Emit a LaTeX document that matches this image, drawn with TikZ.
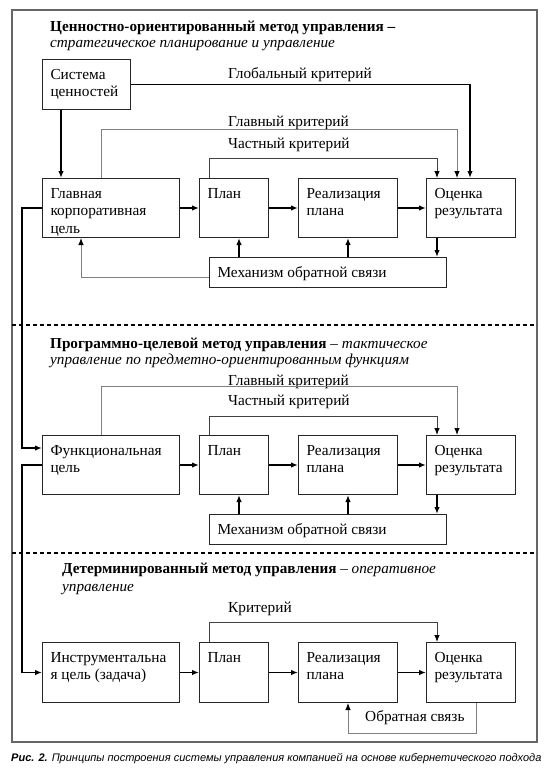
\documentclass[tikz,border=0pt]{standalone}
\usepackage{fontspec}
\setmainfont{Liberation Serif}
\newfontfamily\capfont{Liberation Sans}
\usetikzlibrary{arrows.meta}
\newcommand\bxt[3]{\parbox[c][#2pt][t]{\dimexpr #1pt-16pt\relax}{\vspace*{7.5pt}\raggedright\strut #3}}
\begin{document}
\begin{tikzpicture}[x=1pt,y=-1pt,
  box/.style={draw=black!85, line width=1pt, anchor=north west, inner ysep=0pt, inner xsep=8pt, font=\fontsize{15.3}{17.5}\selectfont},
  lbl/.style={anchor=base west, inner sep=0pt, font=\fontsize{15.3}{17.5}\selectfont},
  ttl/.style={anchor=base west, inner sep=0pt, font=\fontsize{15.2}{17}\selectfont},
  thk/.style={line width=1.6pt, -{Latex[length=7pt,width=5.5pt]}},
  thm/.style={line width=0.9pt, draw=black!75, -{Latex[length=7pt,width=5.5pt,color=black]}},
  thn/.style={line width=0.9pt, draw=black!50, -{Latex[length=7pt,width=5.5pt,color=black]}},
  frm/.style={line width=1.5pt, draw=black!60},
  sep/.style={line width=1.2pt, dash pattern=on 4pt off 3pt}
]
\useasboundingbox (0,0) rectangle (551,773);
\fill[white] (0,0) rectangle (551,773);
\draw[frm] (12,10) rectangle (537,742);
\draw[sep] (12,325) -- (537,325);
\draw[sep] (12,553) -- (537,553);

% titles
\node[ttl] (t1a) at (50,32) {\bfseries Ценностно-ориентированный метод управления –};
\node[ttl] (t1b) at (50,48) {\itshape стратегическое планирование и управление};
\node[ttl] (t2a) at (50,348) {{\bfseries Программно-целевой метод управления} \textit{– тактическое}};
\node[ttl] (t2b) at (50,364) {\itshape управление по предметно-ориентированным функциям};
\node[ttl] (t3a) at (62,573) {{\bfseries Детерминированный метод управления} \textit{– оперативное}};
\node[ttl] (t3b) at (62,591) {\itshape управление};

% top section
\node[box] (sys) at (42,59) {\bxt{88}{50}{Система\\ценностей}};
\node[box] (glav) at (42,178) {\bxt{137}{59}{Главная\\корпоративная\\цель}};
\node[box] (plan1) at (199,178) {\bxt{69}{59}{План}};
\node[box] (real1) at (298,178) {\bxt{99}{59}{Реализация\\плана}};
\node[box] (oc1) at (426,178) {\bxt{89}{59}{Оценка\\результата}};
\node[box] (mech1) at (209,257) {\bxt{237}{30}{Механизм обратной связи}};

\node[lbl] (lglob) at (228,79) {Глобальный критерий};
\node[lbl] (lgl1) at (228,127) {Главный критерий};
\node[lbl] (lch1) at (228,148) {Частный критерий};

\draw[thk] ([xshift=19pt]sys.south west) -- ([xshift=19pt]glav.north west);
\draw[thk] (sys.east) -| ([xshift=44pt]oc1.north west);
\draw[thn] ([xshift=59pt]glav.north west) -- ++(0,-49) -| ([xshift=31pt]oc1.north west);
\draw[thm] ([xshift=10pt]plan1.north west) -- ++(0,-20) -| ([xshift=11pt]oc1.north west);
\draw[thk] (glav.east) -- (plan1.west);
\draw[thk] (plan1.east) -- (real1.west);
\draw[thk] (real1.east) -- (oc1.west);
\draw[thk] ([xshift=30pt]mech1.north west) -- ([xshift=40pt]plan1.south west);
\draw[thk] ([xshift=139pt]mech1.north west) -- ([xshift=50pt]real1.south west);
\draw[thk] ([xshift=11pt]oc1.south west) -- ([xshift=228pt]mech1.north west);
\draw[thn] ([yshift=-5pt]mech1.west) -| ([xshift=39pt]glav.south west);

% middle section
\node[box] (func) at (42,435) {\bxt{137}{59}{Функциональная\\цель}};
\node[box] (plan2) at (199,435) {\bxt{69}{59}{План}};
\node[box] (real2) at (298,435) {\bxt{99}{59}{Реализация\\плана}};
\node[box] (oc2) at (426,435) {\bxt{89}{59}{Оценка\\результата}};
\node[box] (mech2) at (209,514) {\bxt{237}{30}{Механизм обратной связи}};

\node[lbl] (lgl2) at (228,385) {Главный критерий};
\node[lbl] (lch2) at (228,405) {Частный критерий};

\draw[thk] (glav.west) -- ++(-20,0) |- ([yshift=-13pt]func.north west);
\draw[thn] ([xshift=59pt]func.north west) -- ++(0,-49) -| ([xshift=31pt]oc2.north west);
\draw[thm] ([xshift=10pt]plan2.north west) -- ++(0,-19) -| ([xshift=11pt]oc2.north west);
\draw[thk] (func.east) -- (plan2.west);
\draw[thk] (plan2.east) -- (real2.west);
\draw[thk] (real2.east) -- (oc2.west);
\draw[thk] ([xshift=30pt]mech2.north west) -- ([xshift=40pt]plan2.south west);
\draw[thk] ([xshift=139pt]mech2.north west) -- ([xshift=50pt]real2.south west);
\draw[thk] ([xshift=11pt]oc2.south west) -- ([xshift=228pt]mech2.north west);

% bottom section
\node[box] (instr) at (42,642) {\bxt{137}{60}{Инструментальна\\я цель (задача)}};
\node[box] (plan3) at (199,642) {\bxt{69}{60}{План}};
\node[box] (real3) at (298,642) {\bxt{99}{60}{Реализация\\плана}};
\node[box] (oc3) at (426,642) {\bxt{89}{60}{Оценка\\результата}};

\node[lbl] (lkr) at (228,612) {Критерий};
\node[lbl] (lob) at (365,721) {Обратная связь};

\draw[thk] (func.west) -- ++(-20,0) |- (instr.west);
\draw[thm] ([xshift=10pt]plan3.north west) -- ++(0,-20) -| ([xshift=11pt]oc3.north west);
\draw[thk] (instr.east) -- (plan3.west);
\draw[thk] (plan3.east) -- (real3.west);
\draw[thk] (real3.east) -- (oc3.west);
\draw[thn] ([xshift=50pt]oc3.south west) -- ++(0,30) -| ([xshift=50pt]real3.south west);

% caption
\node[anchor=base west, inner sep=0pt, font=\capfont\itshape\fontsize{11}{13}\selectfont] (cap) at (11,761) {\textbf{Рис. 2.} Принципы построения системы управления компанией на основе кибернетического подхода};
\end{tikzpicture}
\end{document}
